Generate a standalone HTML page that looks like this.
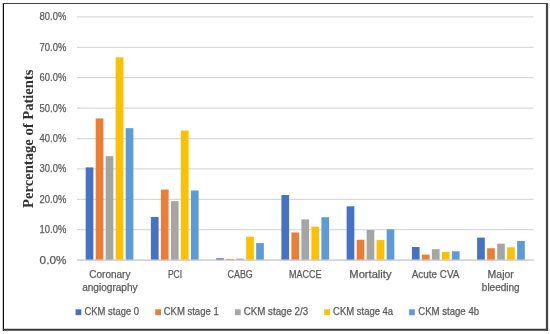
<!DOCTYPE html><html><head><meta charset="utf-8"><title>Chart</title>
<style>html,body{margin:0;padding:0;background:#fff}svg{display:block}text{font-family:"Liberation Sans",sans-serif;fill:#595959;stroke:#595959;stroke-width:0.25px}</style></head><body>
<svg width="550" height="334" viewBox="0 0 550 334">
<defs><filter id="soft" x="0" y="0" width="550" height="334" filterUnits="userSpaceOnUse"><feGaussianBlur stdDeviation="0.35"/></filter></defs><rect x="0" y="0" width="550" height="334" fill="#fff"/><g filter="url(#soft)">
<g stroke="#333" fill="none">
<line x1="3.4" y1="3" x2="3.4" y2="330.7" stroke-width="1.2" stroke="#111"/>
<line x1="2.8" y1="3.5" x2="548" y2="3.5" stroke-width="1.05" stroke="#444"/>
<line x1="547" y1="3" x2="547" y2="330.6" stroke-width="2.2" stroke="#444"/>
<line x1="2.8" y1="329.7" x2="548.1" y2="329.7" stroke-width="2.1" stroke="#383838"/>
</g>
<line x1="77.0" y1="260.10" x2="533.5" y2="260.10" stroke="#D9D9D9" stroke-width="1.25"/>
<text x="66.4" y="263.60" font-size="10.6" text-anchor="end" textLength="26.8" lengthAdjust="spacingAndGlyphs">0.0%</text>
<line x1="77.0" y1="229.70" x2="533.5" y2="229.70" stroke="#D9D9D9" stroke-width="1.25"/>
<text x="66.4" y="233.20" font-size="10.6" text-anchor="end" textLength="26.8" lengthAdjust="spacingAndGlyphs">10.0%</text>
<line x1="77.0" y1="199.30" x2="533.5" y2="199.30" stroke="#D9D9D9" stroke-width="1.25"/>
<text x="66.4" y="202.80" font-size="10.6" text-anchor="end" textLength="26.8" lengthAdjust="spacingAndGlyphs">20.0%</text>
<line x1="77.0" y1="168.90" x2="533.5" y2="168.90" stroke="#D9D9D9" stroke-width="1.25"/>
<text x="66.4" y="172.40" font-size="10.6" text-anchor="end" textLength="26.8" lengthAdjust="spacingAndGlyphs">30.0%</text>
<line x1="77.0" y1="138.50" x2="533.5" y2="138.50" stroke="#D9D9D9" stroke-width="1.25"/>
<text x="66.4" y="142.00" font-size="10.6" text-anchor="end" textLength="26.8" lengthAdjust="spacingAndGlyphs">40.0%</text>
<line x1="77.0" y1="108.10" x2="533.5" y2="108.10" stroke="#D9D9D9" stroke-width="1.25"/>
<text x="66.4" y="111.60" font-size="10.6" text-anchor="end" textLength="26.8" lengthAdjust="spacingAndGlyphs">50.0%</text>
<line x1="77.0" y1="77.70" x2="533.5" y2="77.70" stroke="#D9D9D9" stroke-width="1.25"/>
<text x="66.4" y="81.20" font-size="10.6" text-anchor="end" textLength="26.8" lengthAdjust="spacingAndGlyphs">60.0%</text>
<line x1="77.0" y1="47.30" x2="533.5" y2="47.30" stroke="#D9D9D9" stroke-width="1.25"/>
<text x="66.4" y="50.80" font-size="10.6" text-anchor="end" textLength="26.8" lengthAdjust="spacingAndGlyphs">70.0%</text>
<line x1="77.0" y1="16.90" x2="533.5" y2="16.90" stroke="#D9D9D9" stroke-width="1.25"/>
<text x="66.4" y="20.40" font-size="10.6" text-anchor="end" textLength="26.8" lengthAdjust="spacingAndGlyphs">80.0%</text>
<rect x="85.67" y="167.38" width="7.7" height="92.72" fill="#4472C4"/>
<rect x="95.67" y="118.44" width="7.7" height="141.66" fill="#ED7D31"/>
<rect x="105.67" y="156.13" width="7.7" height="103.97" fill="#A5A5A5"/>
<rect x="115.67" y="57.33" width="7.7" height="202.77" fill="#FFC000"/>
<rect x="125.67" y="128.16" width="7.7" height="131.94" fill="#5B9BD5"/>
<rect x="150.91" y="216.93" width="7.7" height="43.17" fill="#4472C4"/>
<rect x="160.91" y="189.57" width="7.7" height="70.53" fill="#ED7D31"/>
<rect x="170.91" y="201.12" width="7.7" height="58.98" fill="#A5A5A5"/>
<rect x="180.91" y="130.60" width="7.7" height="129.50" fill="#FFC000"/>
<rect x="190.91" y="190.48" width="7.7" height="69.62" fill="#5B9BD5"/>
<rect x="216.16" y="258.28" width="7.7" height="1.82" fill="#4472C4"/>
<rect x="226.16" y="258.88" width="7.7" height="1.22" fill="#ED7D31"/>
<rect x="236.16" y="258.58" width="7.7" height="1.52" fill="#A5A5A5"/>
<rect x="246.16" y="236.69" width="7.7" height="23.41" fill="#FFC000"/>
<rect x="256.16" y="243.08" width="7.7" height="17.02" fill="#5B9BD5"/>
<rect x="281.40" y="195.04" width="7.7" height="65.06" fill="#4472C4"/>
<rect x="291.40" y="232.44" width="7.7" height="27.66" fill="#ED7D31"/>
<rect x="301.40" y="219.36" width="7.7" height="40.74" fill="#A5A5A5"/>
<rect x="311.40" y="226.66" width="7.7" height="33.44" fill="#FFC000"/>
<rect x="321.40" y="217.24" width="7.7" height="42.86" fill="#5B9BD5"/>
<rect x="346.64" y="206.29" width="7.7" height="53.81" fill="#4472C4"/>
<rect x="356.64" y="239.73" width="7.7" height="20.37" fill="#ED7D31"/>
<rect x="366.64" y="230.00" width="7.7" height="30.10" fill="#A5A5A5"/>
<rect x="376.64" y="240.04" width="7.7" height="20.06" fill="#FFC000"/>
<rect x="386.64" y="229.40" width="7.7" height="30.70" fill="#5B9BD5"/>
<rect x="411.89" y="247.03" width="7.7" height="13.07" fill="#4472C4"/>
<rect x="421.89" y="254.63" width="7.7" height="5.47" fill="#ED7D31"/>
<rect x="431.89" y="249.16" width="7.7" height="10.94" fill="#A5A5A5"/>
<rect x="441.89" y="251.89" width="7.7" height="8.21" fill="#FFC000"/>
<rect x="451.89" y="251.28" width="7.7" height="8.82" fill="#5B9BD5"/>
<rect x="477.13" y="237.60" width="7.7" height="22.50" fill="#4472C4"/>
<rect x="487.13" y="248.24" width="7.7" height="11.86" fill="#ED7D31"/>
<rect x="497.13" y="243.68" width="7.7" height="16.42" fill="#A5A5A5"/>
<rect x="507.13" y="247.33" width="7.7" height="12.77" fill="#FFC000"/>
<rect x="517.13" y="240.95" width="7.7" height="19.15" fill="#5B9BD5"/>
<line x1="77.0" y1="260.1" x2="533.5" y2="260.1" stroke="#D2D2D2" stroke-width="1.25"/>
<text x="109.87" y="277.70" font-size="10" text-anchor="middle" textLength="41.1" lengthAdjust="spacingAndGlyphs">Coronary</text>
<text x="109.87" y="290.70" font-size="10" text-anchor="middle" textLength="55.4" lengthAdjust="spacingAndGlyphs">angiography</text>
<text x="175.01" y="277.70" font-size="10" text-anchor="middle" textLength="14.2" lengthAdjust="spacingAndGlyphs">PCI</text>
<text x="240.16" y="277.70" font-size="10" text-anchor="middle" textLength="25.3" lengthAdjust="spacingAndGlyphs">CABG</text>
<text x="305.30" y="277.70" font-size="10" text-anchor="middle" textLength="32.7" lengthAdjust="spacingAndGlyphs">MACCE</text>
<text x="370.44" y="277.70" font-size="10" text-anchor="middle" textLength="42.1" lengthAdjust="spacingAndGlyphs">Mortality</text>
<text x="435.59" y="277.70" font-size="10" text-anchor="middle" textLength="47.6" lengthAdjust="spacingAndGlyphs">Acute CVA</text>
<text x="500.73" y="277.70" font-size="10" text-anchor="middle" textLength="26.200000000000003" lengthAdjust="spacingAndGlyphs">Major</text>
<text x="500.73" y="290.70" font-size="10" text-anchor="middle" textLength="37.800000000000004" lengthAdjust="spacingAndGlyphs">bleeding</text>
<rect x="75.6" y="309.3" width="5.7" height="5.9" fill="#4472C4"/>
<text x="84.5" y="315.3" font-size="10" textLength="54.6" lengthAdjust="spacingAndGlyphs">CKM stage 0</text>
<rect x="155.3" y="309.3" width="5.7" height="5.9" fill="#ED7D31"/>
<text x="163.7" y="315.3" font-size="10" textLength="55.0" lengthAdjust="spacingAndGlyphs">CKM stage 1</text>
<rect x="235.0" y="309.3" width="5.7" height="5.9" fill="#A5A5A5"/>
<text x="243.7" y="315.3" font-size="10" textLength="64.5" lengthAdjust="spacingAndGlyphs">CKM stage 2/3</text>
<rect x="324.2" y="309.3" width="5.7" height="5.9" fill="#FFC000"/>
<text x="333.1" y="315.3" font-size="10" textLength="60.0" lengthAdjust="spacingAndGlyphs">CKM stage 4a</text>
<rect x="409.1" y="309.3" width="5.7" height="5.9" fill="#5B9BD5"/>
<text x="418.2" y="315.3" font-size="10" textLength="60.9" lengthAdjust="spacingAndGlyphs">CKM stage 4b</text>
<text transform="translate(32.5,207.9) rotate(-90)" font-size="14.6" font-weight="bold" style="font-family:'Liberation Serif',serif;fill:#303030;stroke:none" textLength="138.4" lengthAdjust="spacingAndGlyphs">Percentage of Patients</text>
</g></svg></body></html>
